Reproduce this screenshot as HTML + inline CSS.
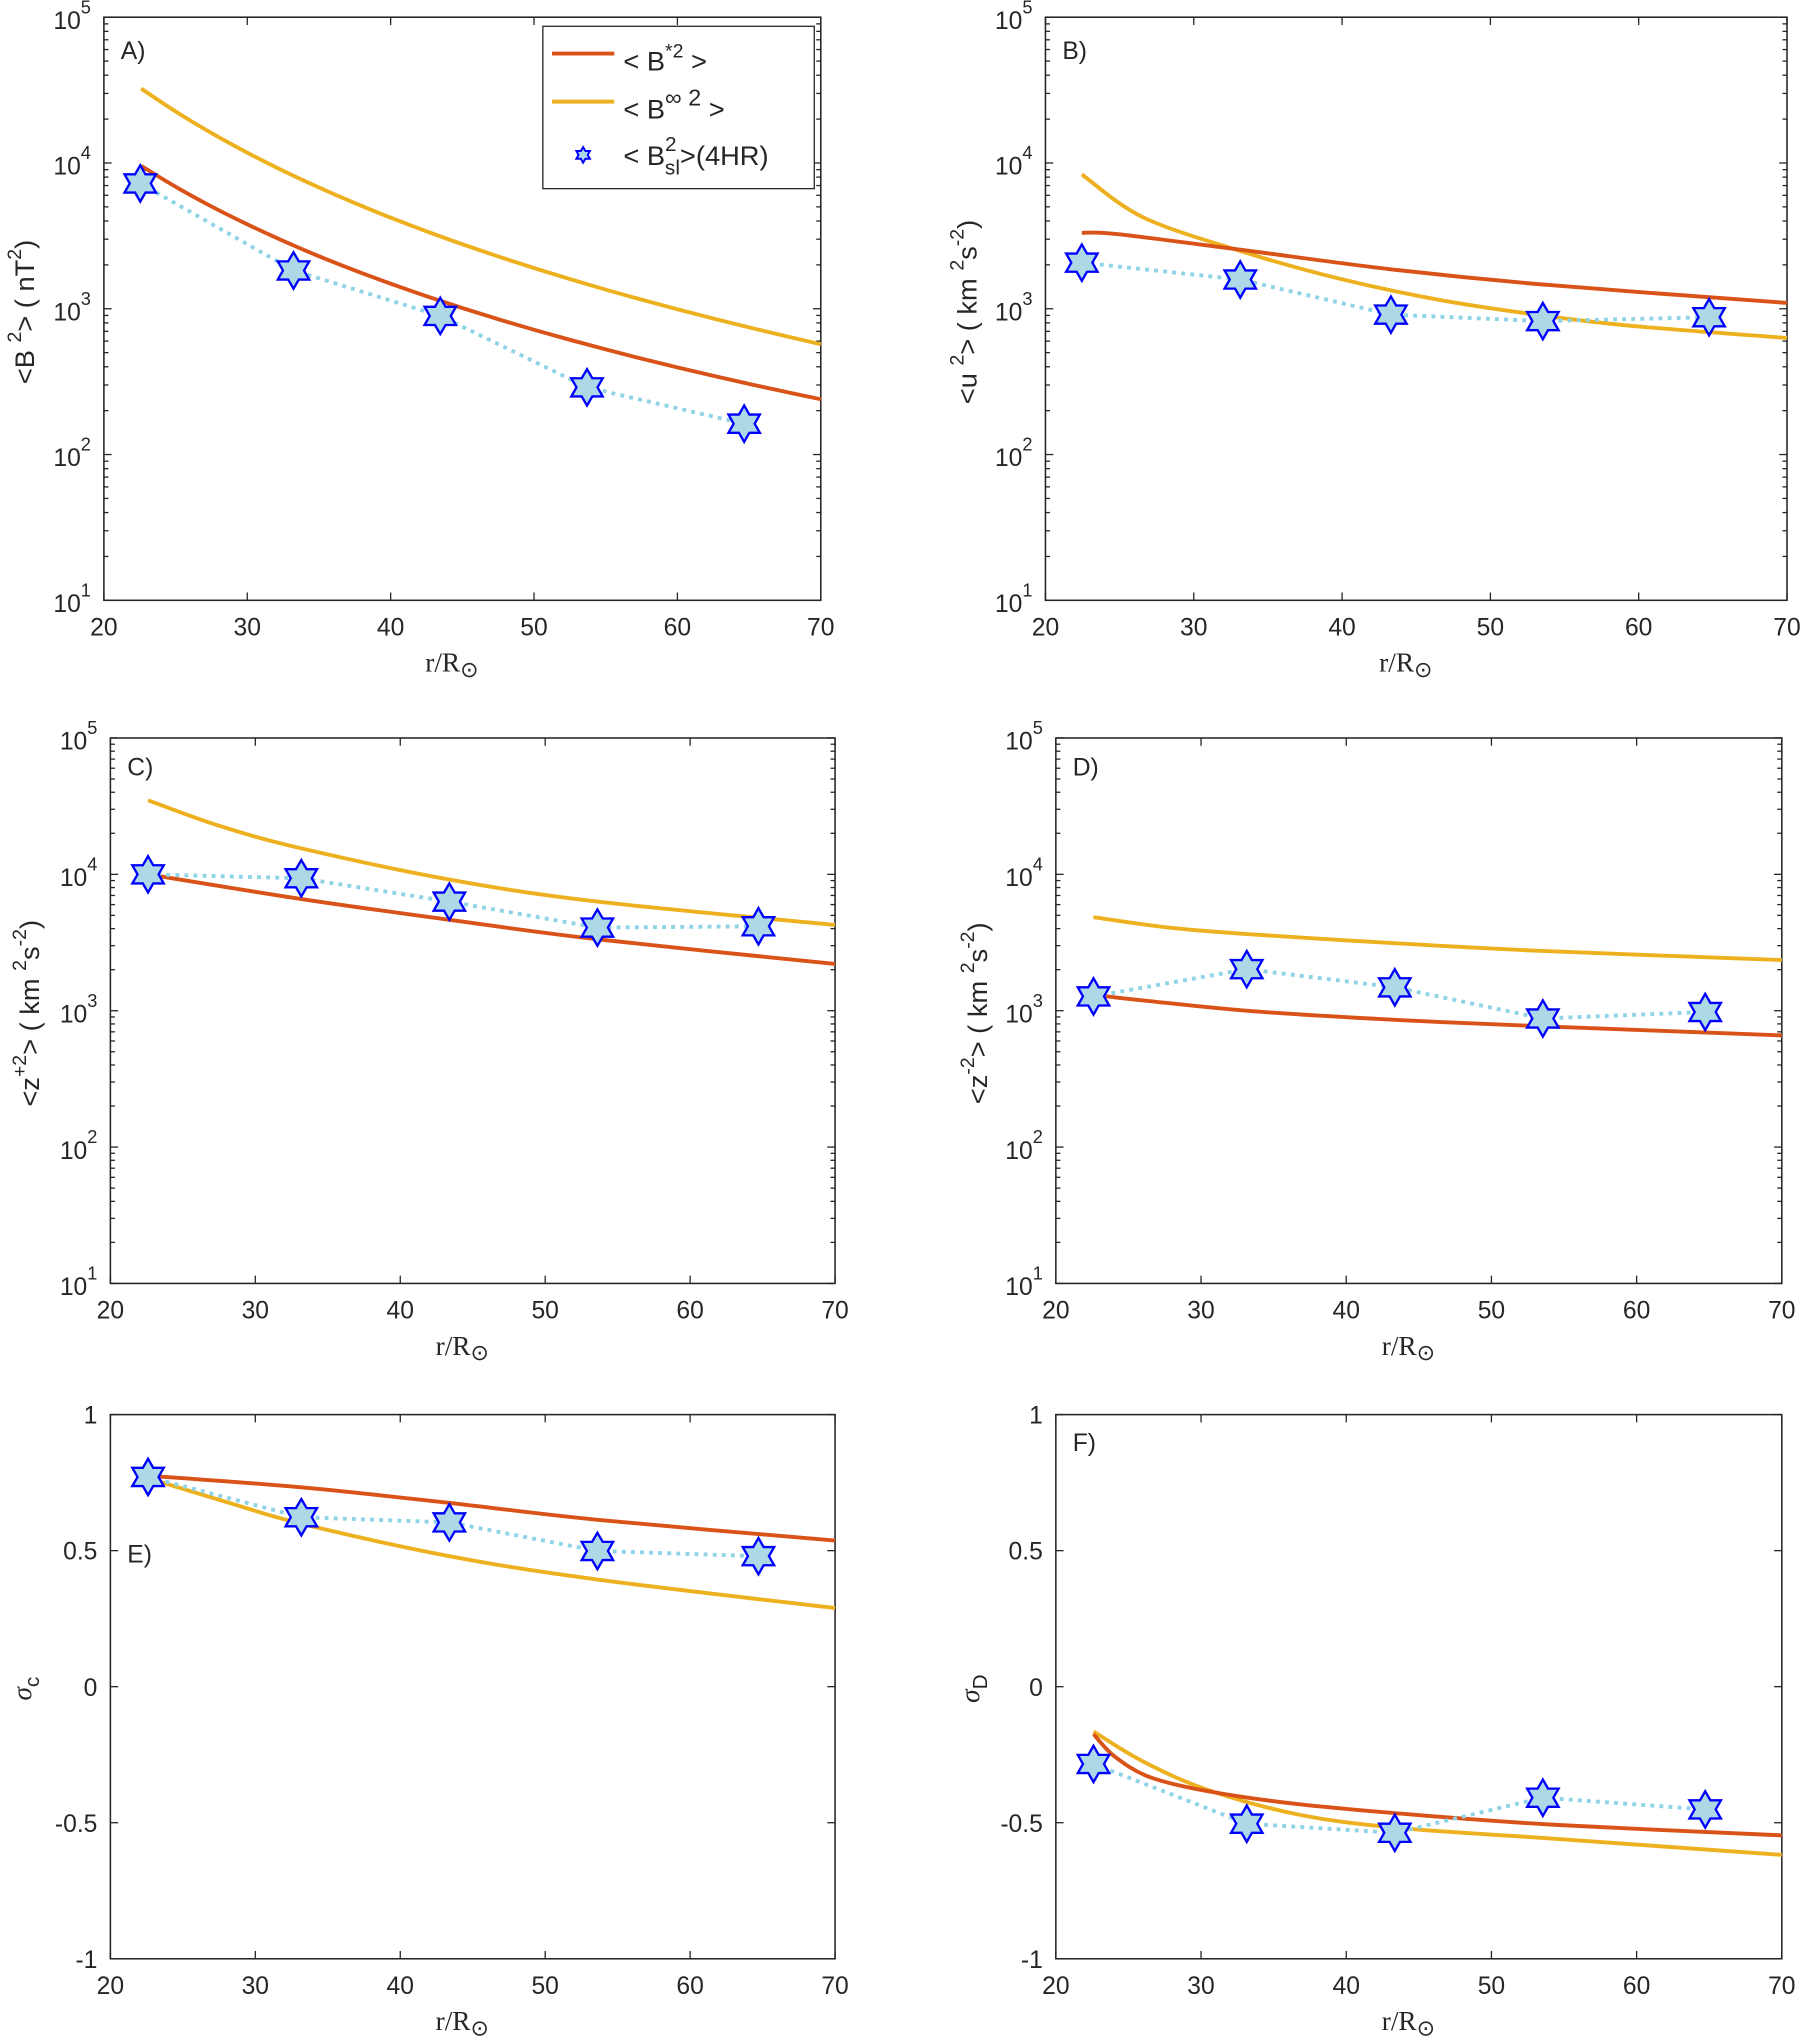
<!DOCTYPE html>
<html><head><meta charset="utf-8"><style>
html,body{margin:0;padding:0;background:#fff}
svg{display:block}
text{font-family:"Liberation Sans",sans-serif;fill:#262626}
.s{font-family:"Liberation Serif",serif}
</style></head><body>
<svg id="c" width="1800" height="2037" viewBox="0 0 1386 1568" xmlns="http://www.w3.org/2000/svg"></svg>
<script>
const S=document.getElementById('c');let h='';
const RC='#D95319',YC='#EDB120';
function cr(p){let d='M'+p[0][0]+','+p[0][1];for(let i=0;i<p.length-1;i++){const p0=p[i-1]||p[i],p1=p[i],p2=p[i+1],p3=p[i+2]||p2;
d+=' C'+(p1[0]+(p2[0]-p0[0])/6)+','+(p1[1]+(p2[1]-p0[1])/6)+' '+(p2[0]-(p3[0]-p1[0])/6)+','+(p2[1]-(p3[1]-p1[1])/6)+' '+p2[0]+','+p2[1];}return d;}
function star(x,y){const r=14,ri=8.1;let pts=[];for(let i=0;i<12;i++){const a=-Math.PI/2+i*Math.PI/6,rr=i%2?ri:r;pts.push((x+rr*Math.cos(a)).toFixed(1)+','+(y+rr*Math.sin(a)).toFixed(1));}
return '<polygon points="'+pts.join(' ')+'" fill="#ADD8E6" stroke="#0000FF" stroke-width="1.8"/>';}
function pw(l,r,t,b,v0,sl){let p=[];for(let x=22.6;x<=70.01;x+=2.5){const xx=Math.min(x,70);const v=v0+sl*Math.log10(xx/22.6);p.push([+(l+(r-l)*(xx-20)/50).toFixed(1),+(t+(5-v)*(b-t)/4).toFixed(1)]);}
const v=v0+sl*Math.log10(70/22.6);p.push([r,+(t+(5-v)*(b-t)/4).toFixed(1)]);return p;}
function panel(o){const{l,r,t,b}=o;
h+='<rect x="'+l+'" y="'+t+'" width="'+(r-l)+'" height="'+(b-t)+'" fill="none" stroke="#262626" stroke-width="1.2"/>';
for(let k=0;k<=5;k++){const x=l+(r-l)*k/5;h+='<line x1="'+x+'" y1="'+b+'" x2="'+x+'" y2="'+(b-6)+'" stroke="#262626"/><line x1="'+x+'" y1="'+t+'" x2="'+x+'" y2="'+(t+6)+'" stroke="#262626"/>';
h+='<text x="'+x+'" y="'+(b+27)+'" font-size="19" text-anchor="middle">'+(20+10*k)+'</text>';}
if(o.log){const dh=(b-t)/4;for(let k=0;k<=4;k++){const y=b-k*dh;
h+='<line x1="'+l+'" y1="'+y+'" x2="'+(l+6)+'" y2="'+y+'" stroke="#262626"/><line x1="'+r+'" y1="'+y+'" x2="'+(r-6)+'" y2="'+y+'" stroke="#262626"/>';
h+='<text x="'+(l-10)+'" y="'+(y+9)+'" font-size="19" text-anchor="end">10<tspan dy="-12" font-size="14">'+(k+1)+'</tspan></text>';
if(k<4)for(let m=2;m<10;m++){const ym=y-Math.log10(m)*dh;h+='<line x1="'+l+'" y1="'+ym+'" x2="'+(l+3.5)+'" y2="'+ym+'" stroke="#262626"/><line x1="'+r+'" y1="'+ym+'" x2="'+(r-3.5)+'" y2="'+ym+'" stroke="#262626"/>';}}}
else{const lab=['-1','-0.5','0','0.5','1'];for(let k=0;k<=4;k++){const y=b-k*(b-t)/4;
h+='<line x1="'+l+'" y1="'+y+'" x2="'+(l+6)+'" y2="'+y+'" stroke="#262626"/><line x1="'+r+'" y1="'+y+'" x2="'+(r-6)+'" y2="'+y+'" stroke="#262626"/>';
h+='<text x="'+(l-10)+'" y="'+(y+7)+'" font-size="19" text-anchor="end">'+lab[k]+'</text>';}}
h+='<text class="s" x="'+((l+r)/2-8)+'" y="'+(b+55)+'" font-size="21" text-anchor="middle">r/R<tspan font-size="17" dy="4">&#8857;</tspan></text>';
h+='<path d="'+cr(o.yw)+'" fill="none" stroke="'+YC+'" stroke-width="3"/>';
h+='<path d="'+cr(o.rd)+'" fill="none" stroke="'+RC+'" stroke-width="3"/>';
h+='<polyline points="'+o.s.map(p=>p.join(',')).join(' ')+'" fill="none" stroke="#8FD3E6" stroke-width="3" stroke-dasharray="3,4"/>';
o.s.forEach(p=>h+=star(p[0],p[1]));
h+='<text x="'+o.lx+'" y="'+o.ly+'" font-size="19">'+o.lt+'</text>';
h+='<text transform="translate('+o.yx+','+o.yy+') rotate(-90)" font-size="21" text-anchor="middle">'+o.yl+'</text>';}
panel({l:80,r:632,t:13,b:462,log:1,lx:93,ly:45,lt:'A)',yx:26,yy:240,yl:'&lt;B <tspan dy="-10" font-size="15">2</tspan><tspan dy="10">&gt; ( nT</tspan><tspan dy="-10" font-size="15">2</tspan><tspan dy="10">)</tspan>',
yw:pw(80,632,13,462,4.51,-3.57),
rd:pw(80,632,13,462,3.98,-3.26),
s:[[108,141],[226,208],[339,243],[452,298],[573,326]]});
panel({l:805,r:1376,t:13,b:462,log:1,lx:818,ly:45,lt:'B)',yx:752,yy:240,yl:'&lt;u <tspan dy="-10" font-size="15">2</tspan><tspan dy="10">&gt; ( km </tspan><tspan dy="-10" font-size="15">2</tspan><tspan dy="10">s</tspan><tspan dy="-10" font-size="15">-2</tspan><tspan dy="10">)</tspan>',
yw:[[833,134],[880,167],[955,193],[1030,214],[1110,231],[1190,243],[1260,251],[1376,260]],
rd:[[833,179],[860,180],[955,192],[1070,207],[1190,219],[1376,233]],
s:[[833,202],[955,215],[1071,242],[1188,247],[1316,244]]});
panel({l:85,r:643,t:568,b:988,log:1,lx:98,ly:597,lt:'C)',yx:30,yy:780,yl:'&lt;z<tspan dy="-10" font-size="15">+2</tspan><tspan dy="10">&gt; ( km </tspan><tspan dy="-10" font-size="15">2</tspan><tspan dy="10">s</tspan><tspan dy="-10" font-size="15">-2</tspan><tspan dy="10">)</tspan>',
yw:[[114,616],[170,636],[232,653],[346,677],[460,694],[643,712]],
rd:[[114,673],[232,692],[346,708],[460,723],[643,742]],
s:[[114,673],[232,676],[346,694],[460,714],[584,713]]});
panel({l:813,r:1372,t:568,b:988,log:1,lx:826,ly:597,lt:'D)',yx:760,yy:780,yl:'&lt;z<tspan dy="-10" font-size="15">-2</tspan><tspan dy="10">&gt; ( km </tspan><tspan dy="-10" font-size="15">2</tspan><tspan dy="10">s</tspan><tspan dy="-10" font-size="15">-2</tspan><tspan dy="10">)</tspan>',
yw:[[842,706],[900,714],[960,719],[1074,726],[1188,732],[1372,739]],
rd:[[842,766],[960,778],[1074,785],[1188,790],[1372,797]],
s:[[842,767],[960,746],[1074,760],[1188,784],[1313,779]]});
panel({l:85,r:643,t:1089,b:1508,lx:98,ly:1203,lt:'E)',yx:24,yy:1300,yl:'<tspan font-family="Liberation Serif" font-style="italic">σ</tspan><tspan dy="6" font-size="16">c</tspan>',
yw:[[114,1138],[180,1158],[232,1173],[346,1198],[460,1216],[643,1238]],
rd:[[114,1136],[232,1145],[346,1157],[460,1170],[643,1186]],
s:[[114,1137],[232,1168],[346,1172],[460,1194],[584,1198]]});
panel({l:813,r:1372,t:1089,b:1508,lx:826,ly:1117,lt:'F)',yx:754,yy:1300,yl:'<tspan font-family="Liberation Serif" font-style="italic">σ</tspan><tspan dy="6" font-size="16">D</tspan>',
yw:[[842,1333],[880,1356],[930,1378],[1000,1397],[1074,1407],[1188,1415],[1372,1428]],
rd:[[842,1335],[858,1352],[885,1368],[930,1379],[1000,1389],[1100,1398],[1200,1405],[1372,1413]],
s:[[842,1358],[960,1404],[1074,1411],[1188,1384],[1313,1393]]});
h+='<rect x="418" y="20" width="209" height="125" fill="#fff" stroke="#262626" stroke-width="1"/>';
h+='<line x1="425" y1="41" x2="473" y2="41" stroke="'+RC+'" stroke-width="3"/>';
h+='<line x1="425" y1="78" x2="473" y2="78" stroke="'+YC+'" stroke-width="3"/>';
h+='<text x="480" y="54" font-size="21">&lt; B<tspan dy="-10" font-size="15">*2</tspan><tspan dy="10"> &gt;</tspan></text>';
h+='<text x="480" y="91" font-size="21">&lt; B<tspan dy="-10" font-size="18">∞ 2</tspan><tspan dy="10"> &gt;</tspan></text>';
h+='<text x="480" y="127" font-size="21">&lt; B<tspan dy="-11" font-size="16">2</tspan><tspan dx="-9" dy="18" font-size="16">sl</tspan><tspan dy="-7">&gt;(4HR)</tspan></text>';
(function(){const x=449,y=119,r=6,ri=3.5;let p=[];for(let i=0;i<12;i++){const a=-Math.PI/2+i*Math.PI/6,rr=i%2?ri:r;p.push((x+rr*Math.cos(a)).toFixed(1)+','+(y+rr*Math.sin(a)).toFixed(1));}
h+='<polygon points="'+p.join(' ')+'" fill="#ADD8E6" stroke="#0000FF" stroke-width="1.5"/>';})();
S.innerHTML=h;
</script>
</body></html>
